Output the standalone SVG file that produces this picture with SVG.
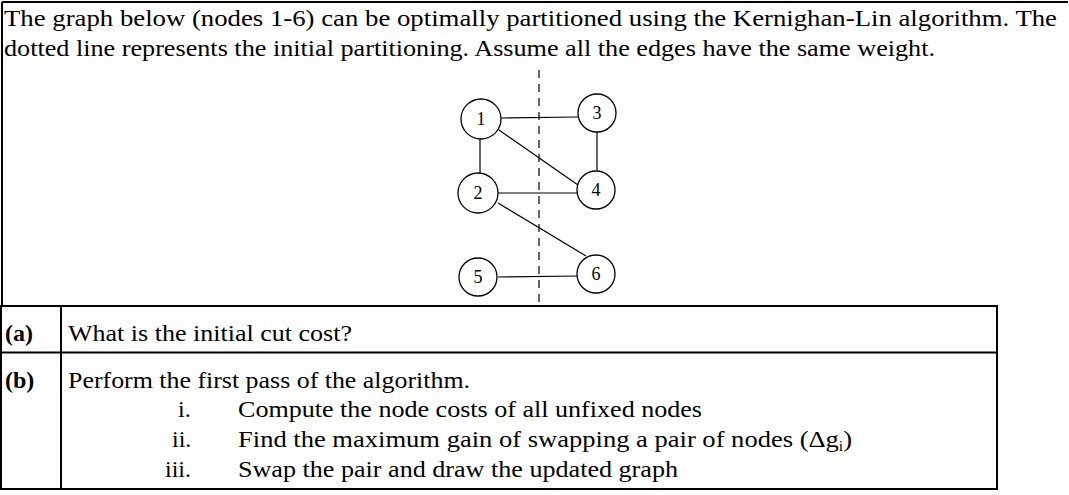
<svg xmlns="http://www.w3.org/2000/svg" width="1069" height="495" viewBox="0 0 1069 495" font-family="'Liberation Serif', 'Times New Roman', serif">
<style>
.t{font-size:24px}
.n{font-size:18px;text-anchor:middle}
.nd{fill:#fff;stroke:#000;stroke-width:1.3}
.e{stroke:#000;stroke-width:1.2;fill:none}
.b{stroke:#000;stroke-width:2;fill:none}
</style>
<rect width="1069" height="495" fill="#fff"/>
<path class="b" d="M2,2 H1068 M2,2 V305"/>
<text class="t" x="4" y="26" textLength="1053" lengthAdjust="spacingAndGlyphs">The graph below (nodes 1-6) can be optimally partitioned using the Kernighan-Lin algorithm. The</text>
<text class="t" x="4" y="56" textLength="931" lengthAdjust="spacingAndGlyphs">dotted line represents the initial partitioning. Assume all the edges have the same weight.</text>
<g id="connectors">
<line class="e" x1="539" y1="70" x2="539" y2="305" stroke-dasharray="8,6"/>
<line class="e" x1="501" y1="118" x2="578" y2="117"/>
<line class="e" x1="499" y1="130" x2="578" y2="185"/>
<line class="e" x1="480" y1="139" x2="480" y2="174"/>
<line class="e" x1="597" y1="131" x2="597" y2="170"/>
<line class="e" x1="498" y1="193" x2="578" y2="193"/>
<line class="e" x1="498" y1="203" x2="586" y2="256"/>
<line class="e" x1="498" y1="277" x2="578" y2="276"/>
</g>
<g id="n1"><circle class="nd" cx="481" cy="119" r="20"/><text class="n" x="481" y="125">1</text></g>
<g id="n3"><circle class="nd" cx="597" cy="113" r="19"/><text class="n" x="597" y="119">3</text></g>
<g id="n2"><circle class="nd" cx="478" cy="193" r="20"/><text class="n" x="478" y="199">2</text></g>
<g id="n4"><circle class="nd" cx="596" cy="190" r="19"/><text class="n" x="596" y="196">4</text></g>
<g id="n5"><circle class="nd" cx="478" cy="277" r="19"/><text class="n" x="478" y="283">5</text></g>
<g id="n6"><circle class="nd" cx="596" cy="274" r="19"/><text class="n" x="596" y="280">6</text></g>
<path class="b" d="M1,306 H997 V489 H1 Z M1,352.5 H997 M61,306 V489"/>
<text class="t" x="5" y="341" font-weight="bold">(a)</text>
<text class="t" x="68" y="341" textLength="284" lengthAdjust="spacingAndGlyphs">What is the initial cut cost?</text>
<text class="t" x="5" y="388" font-weight="bold">(b)</text>
<text class="t" x="68" y="388" textLength="402" lengthAdjust="spacingAndGlyphs">Perform the first pass of the algorithm.</text>
<text class="t" x="178" y="417">i.</text>
<text class="t" x="238" y="417" textLength="464" lengthAdjust="spacingAndGlyphs">Compute the node costs of all unfixed nodes</text>
<text class="t" x="172" y="447">ii.</text>
<text class="t" x="238" y="447" textLength="614" lengthAdjust="spacingAndGlyphs">Find the maximum gain of swapping a pair of nodes (Δg<tspan font-size="14" dy="4">i</tspan><tspan dy="-4">)</tspan></text>
<text class="t" x="165" y="477">iii.</text>
<text class="t" x="238" y="477" textLength="440" lengthAdjust="spacingAndGlyphs">Swap the pair and draw the updated graph</text>
</svg>
